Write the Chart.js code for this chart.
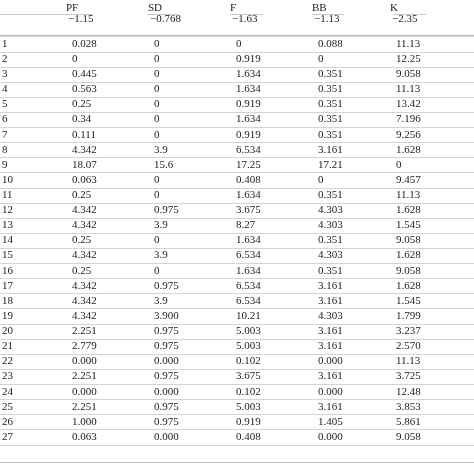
<!DOCTYPE html>
<html><head><meta charset="utf-8">
<script src="https://cdn.jsdelivr.net/npm/chart.js@4"></script>
<style>html,body{margin:0;padding:0;background:#fff}#wrap{width:474px;height:474px}</style>
</head><body><div id="wrap"><canvas id="c"></canvas></div>
<script>
const columns = ["PF","SD","F","BB","K"];
const headerValues = ["\u22121.15","\u22120.768","\u22121.63","\u22121.13","\u22122.35"];
const rowLabels = Array.from({length:27},(_,i)=>String(i+1));
const PF = ["0.028","0","0.445","0.563","0.25","0.34","0.111","4.342","18.07","0.063","0.25","4.342","4.342","0.25","4.342","0.25","4.342","4.342","4.342","2.251","2.779","0.000","2.251","0.000","2.251","1.000","0.063"];
const SD = ["0","0","0","0","0","0","0","3.9","15.6","0","0","0.975","3.9","0","3.9","0","0.975","3.9","3.900","0.975","0.975","0.000","0.975","0.000","0.975","0.975","0.000"];
const F  = ["0","0.919","1.634","1.634","0.919","1.634","0.919","6.534","17.25","0.408","1.634","3.675","8.27","1.634","6.534","1.634","6.534","6.534","10.21","5.003","5.003","0.102","3.675","0.102","5.003","0.919","0.408"];
const BB = ["0.088","0","0.351","0.351","0.351","0.351","0.351","3.161","17.21","0","0.351","4.303","4.303","0.351","4.303","0.351","3.161","3.161","4.303","3.161","3.161","0.000","3.161","0.000","3.161","1.405","0.000"];
const K  = ["11.13","12.25","9.058","11.13","13.42","7.196","9.256","1.628","0","9.457","11.13","1.628","1.545","9.058","1.628","9.058","1.628","1.545","1.799","3.237","2.570","11.13","3.725","12.48","3.853","5.861","9.058"];
const series = [rowLabels, PF, SD, F, BB, K];
const colX = [2, 72, 154, 236, 318, 396];
const underline = [[0,93],[147,178],[230,263],[312,344],[394,426]];

const datasets = series.map((vals,ci)=>({
  label: ci===0 ? "row" : columns[ci-1],
  data: vals.map((v,ri)=>({x: colX[ci], y: ri+1, t: v})),
  pointRadius: 0, showLine: false
}));

const tablePlugin = {
  id:'table',
  afterDraw(chart){
    const ctx = chart.ctx, xs = chart.scales.x, ys = chart.scales.y;
    ctx.save();
    const W = chart.width;
    ctx.strokeStyle = '#d4d4d4'; ctx.lineWidth = 1.2;
    for (let r=1; r<=27; r++){
      const y = Math.round(ys.getPixelForValue(r+0.5))+0.5;
      ctx.beginPath(); ctx.moveTo(0,y); ctx.lineTo(W,y); ctx.stroke();
    }
    ctx.strokeStyle = '#c4c4c4'; ctx.lineWidth = 2;
    const yh = ys.getPixelForValue(0.45);
    ctx.beginPath(); ctx.moveTo(0,yh); ctx.lineTo(W,yh); ctx.stroke();
    ctx.lineWidth = 1.2;
    const yb = Math.round(ys.getPixelForValue(28.65))+0.5;
    ctx.beginPath(); ctx.moveTo(0,yb); ctx.lineTo(W,yb); ctx.stroke();
    ctx.font = '11px "Liberation Serif"'; ctx.fillStyle = '#222';
    ctx.textBaseline = 'middle'; ctx.textAlign = 'left';
    const yn = ys.getPixelForValue(-1.35), yv = ys.getPixelForValue(-0.65), yu = Math.round(ys.getPixelForValue(-1.0))+0.5;
    columns.forEach((c,i)=>{
      const x = xs.getPixelForValue(colX[i+1]);
      ctx.fillText(c, x-6, yn);
      ctx.fillText(headerValues[i], x-4, yv);
      ctx.strokeStyle = '#c8c8c8'; ctx.lineWidth = 1;
      ctx.beginPath(); ctx.moveTo(xs.getPixelForValue(underline[i][0]),yu); ctx.lineTo(xs.getPixelForValue(underline[i][1]),yu); ctx.stroke();
    });
    chart.data.datasets.forEach(ds=>{
      ds.data.forEach(p=>{
        ctx.fillText(p.t, xs.getPixelForValue(p.x), ys.getPixelForValue(p.y));
      });
    });
    ctx.restore();
  }
};

new Chart(document.getElementById('c'), {
  type:'scatter',
  data:{datasets},
  options:{
    responsive:true, maintainAspectRatio:false, animation:false,
    layout:{padding:0},
    plugins:{legend:{display:false}, tooltip:{enabled:false}},
    scales:{
      x:{type:'linear', min:0, max:474, display:false},
      y:{type:'linear', min:-1.91, max:29.45, reverse:true, display:false}
    }
  },
  plugins:[tablePlugin]
});
</script></body></html>
